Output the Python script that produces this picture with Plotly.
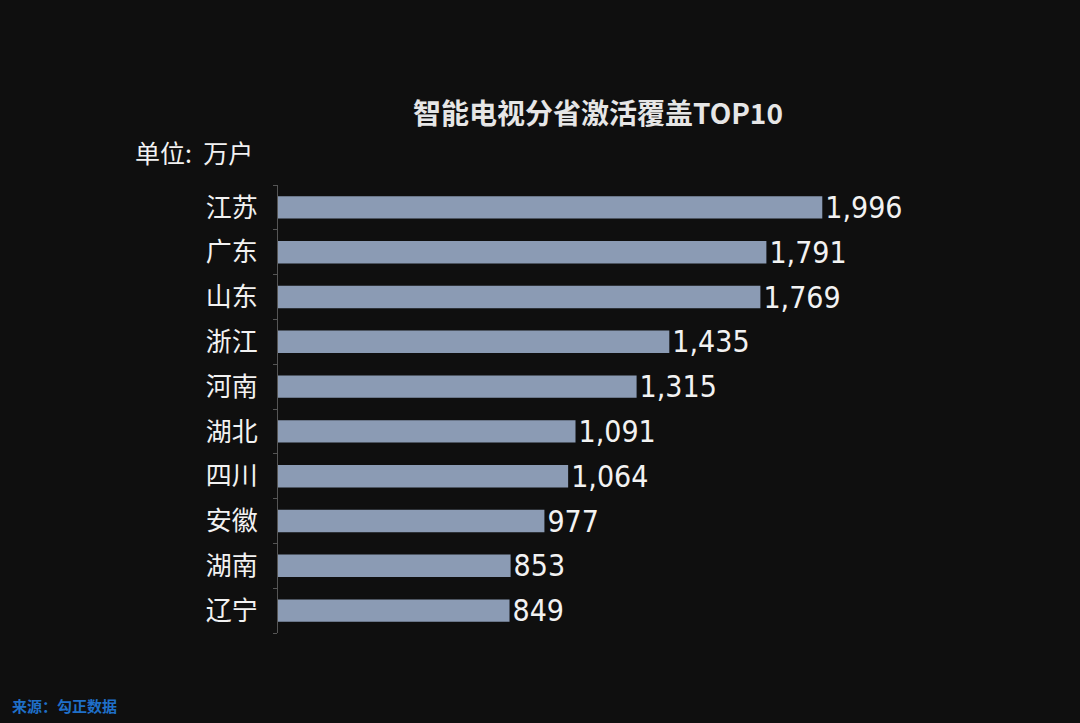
import plotly.graph_objects as go

provinces = ["江苏", "广东", "山东", "浙江", "河南", "湖北", "四川", "安徽", "湖南", "辽宁"]
values = [1996, 1791, 1769, 1435, 1315, 1091, 1064, 977, 853, 849]
title = "智能电视分省激活覆盖TOP10"
unit = "单位:  万户"
source = "来源：勾正数据"

bg = "#0f0f0f"
bar_color = "#8b9bb4"
cjk = "Noto Sans CJK SC"
num_font = "DejaVu Sans Condensed, Liberation Sans Narrow, Noto Sans CJK SC, sans-serif"

W, H = 1080, 723
ml, mr, mt, mb = 278, 93, 185, 90
pw, ph = W - ml - mr, H - mt - mb


def px(x, y):
    return (x - ml) / pw, 1 - (y - mt) / ph


fig = go.Figure()
fig.add_trace(go.Bar(
    x=values,
    y=provinces,
    orientation="h",
    marker=dict(color=bar_color, line=dict(width=0)),
    width=0.5,
    text=[f"{v:,}" for v in values],
    textposition="outside",
    constraintext="none",
    textfont=dict(family=num_font, size=30, color="#f2f2f2"),
    cliponaxis=False,
))

annotations = []
for txt, (x, y), size, color, anchor in [
    (f"<b>{title}</b>", (598, 112), 28, "#e6e6e6", "center"),
    (unit, (133, 152), 25, "#f2f2f2", "left"),
    (f"<b>{source}</b>", (10, 705), 15, "#1f6fc8", "left"),
]:
    xp, yp = px(x, y)
    annotations.append(dict(text=txt, x=xp, y=yp, xref="paper", yref="paper",
                            xanchor=anchor, yanchor="middle", showarrow=False,
                            font=dict(family=cjk, size=size, color=color)))

fig.update_layout(
    width=W, height=H,
    paper_bgcolor=bg, plot_bgcolor=bg,
    margin=dict(l=ml, r=mr, t=mt, b=mb),
    showlegend=False,
    xaxis=dict(range=[0, 2600], visible=False, fixedrange=True),
    yaxis=dict(
        categoryorder="array", categoryarray=provinces[::-1],
        showline=True, linecolor="#555555", linewidth=1,
        ticks="outside", ticklen=4, tickcolor="#555555",
        tickson="boundaries",
        tickfont=dict(family=cjk, size=26, color="#f2f2f2"),
        ticklabelstandoff=14,
        showgrid=False,
    ),
    annotations=annotations,
)

fig.write_html("out.html")
